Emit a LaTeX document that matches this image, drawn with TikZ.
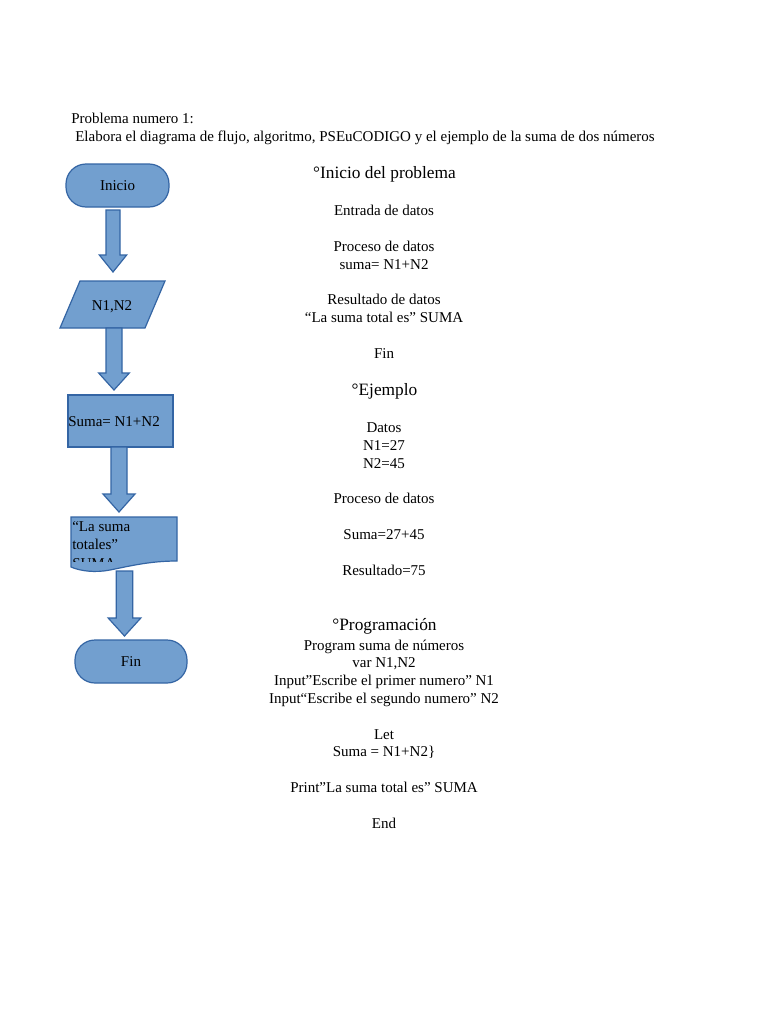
\documentclass[tikz,border=0pt]{standalone}
\usepackage{fontspec}
\setmainfont{Liberation Serif}
\usetikzlibrary{calc}
\definecolor{fc}{HTML}{729FCF}
\definecolor{bc}{HTML}{3465A4}
\newcommand\blockarr[5]{%
  \draw[barrow] let \p1=(#1), \p2=(#2) in
    (\x1-#3,\y1) -- (\x1+#3,\y1) -- (\x1+#3,\y2+#5) -- (\x1+#4,\y2+#5) --
    (\x1,\y2) -- (\x1-#4,\y2+#5) -- (\x1-#3,\y2+#5) -- cycle;}
\begin{document}
\begin{tikzpicture}[x=0.75pt,y=-0.75pt,
  shapestyle/.style={fill=fc,draw=bc,line width=0.9pt},
  barrow/.style={fill=fc,draw=bc,line width=0.9pt},
  body/.style={font=\fontsize{11.25}{13.5}\selectfont,anchor=mid,inner sep=0pt},
  head/.style={font=\fontsize{13}{15}\selectfont,anchor=mid,inner sep=0pt}]
\useasboundingbox[fill=white] (0,0) rectangle (768,1024);

% header
\node[body,anchor=mid west] (t1) at (71,120) {Problema numero 1:};
\node[body,anchor=mid west] (t2) at (75,138) {Elabora el diagrama de flujo, algoritmo, PSEuCODIGO y el ejemplo de la suma de dos números};

% flowchart shapes
\node[shapestyle,body,anchor=center,rounded corners=15pt,minimum width=77.25pt,minimum height=32.25pt] (inicio) at (117.5,185.5) {};
\node[body] (iniciot) at (117.5,187) {Inicio};

\draw[shapestyle] (80,281) -- (165,281) -- (145,328) -- (60,328) -- cycle;
\node[body] (datos) at (112,307) {N1,N2};

\node[shapestyle,anchor=center,minimum width=78.75pt,minimum height=39pt] (suma) at (120.5,421) {};
\node[body,anchor=mid west] (sumat) at (68,423) {Suma= N1+N2};

\coordinate (doc) at (124,517);
\draw[shapestyle] (71,517) -- (177,517) -- (177,561) .. controls (150,561) and (130,566) .. (110,570) .. controls (95,573) and (80,571) .. (71,567) -- cycle;
\begin{scope}
\clip (71,517) rectangle (177,561);
\node[body,anchor=mid west] (d1) at (72,528) {“La suma};
\node[body,anchor=mid west] (d2) at (72,546) {totales”};
\node[body,anchor=mid west] (d3) at (72,565) {SUMA};
\end{scope}

\node[shapestyle,anchor=center,rounded corners=15pt,minimum width=84pt,minimum height=32.25pt] (fin) at (131,661.5) {};
\node[body] (fint) at (131,663) {Fin};

% block arrows
\coordinate (a1s) at (113,210); \coordinate (a1e) at (113,272);
\coordinate (a2s) at (114,328); \coordinate (a2e) at (114,390);
\coordinate (a3s) at (119,447); \coordinate (a3e) at (119,512);
\coordinate (a4s) at (124.5,571); \coordinate (a4e) at (124.5,636);
\blockarr{a1s}{a1e}{5.25pt}{10.25pt}{12.75pt}
\blockarr{a2s}{a2e}{6pt}{11.5pt}{12.75pt}
\blockarr{a3s}{a3e}{6pt}{12pt}{13.5pt}
\blockarr{a4s}{a4e}{6.25pt}{12.25pt}{13.5pt}

% right column
\node[head] (h1) at (384.5,175) {°Inicio del problema};
\node[body] (r1) at (384,212) {Entrada de datos};
\node[body] (r2) at (384,248) {Proceso de datos};
\node[body] (r3) at (384,266) {suma= N1+N2};
\node[body] (r4) at (384,301) {Resultado de datos};
\node[body] (r5) at (384,319) {“La suma total es” SUMA};
\node[body] (r6) at (384,355) {Fin};
\node[head] (h2) at (384.5,392) {°Ejemplo};
\node[body] (e1) at (384,429) {Datos};
\node[body] (e2) at (384,447) {N1=27};
\node[body] (e3) at (384,465) {N2=45};
\node[body] (e4) at (384,500) {Proceso de datos};
\node[body] (e5) at (384,536) {Suma=27+45};
\node[body] (e6) at (384,572) {Resultado=75};
\node[head] (h3) at (384.5,627) {°Programación};
\node[body] (p1) at (384,647) {Program suma de números};
\node[body] (p2) at (384,664) {var N1,N2};
\node[body] (p3) at (384,682) {Input”Escribe el primer numero” N1};
\node[body] (p4) at (384,700) {Input“Escribe el segundo numero” N2};
\node[body] (p5) at (384,736) {Let};
\node[body] (p6) at (384,753) {Suma = N1+N2\}};
\node[body] (p7) at (384,789) {Print”La suma total es” SUMA};
\node[body] (p8) at (384,825) {End};
\end{tikzpicture}
\end{document}
